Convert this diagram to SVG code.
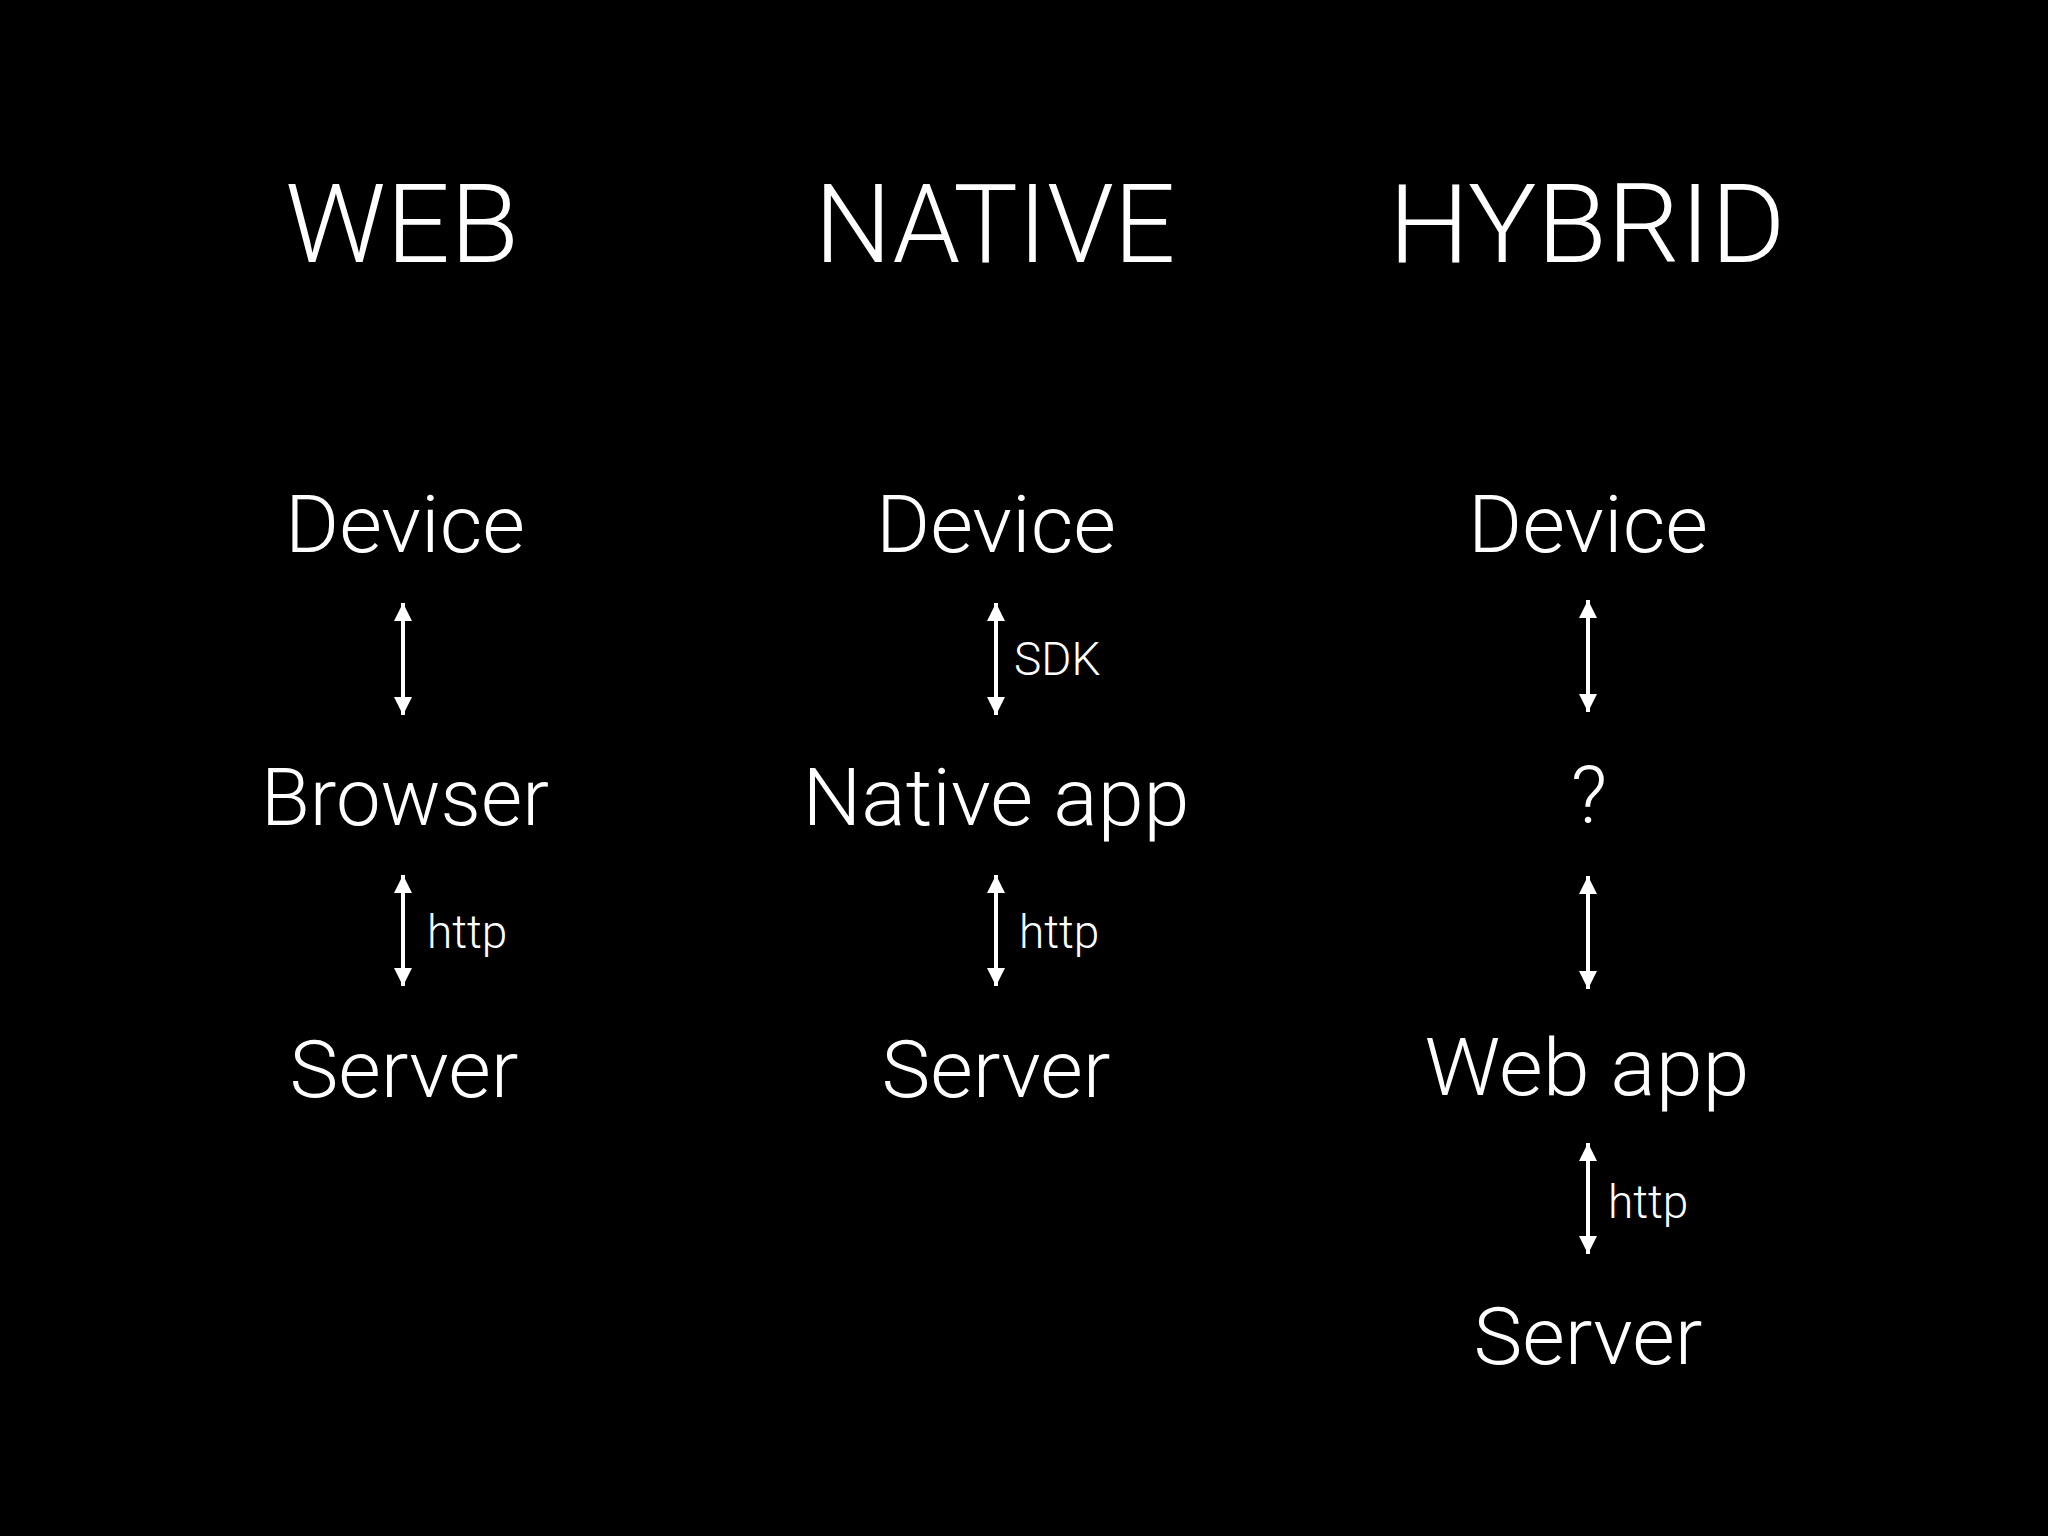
<svg xmlns="http://www.w3.org/2000/svg" width="2048" height="1536" viewBox="0 0 2048 1536">
<defs>
<marker id="ah" viewBox="0 0 10 10" refX="10" refY="5" markerWidth="18" markerHeight="18" markerUnits="userSpaceOnUse" orient="auto-start-reverse">
<path d="M0,0 L10,5 L0,10 z" fill="#fff"/>
</marker>
<style>
.t{font-family:Roboto,"Helvetica Neue","Liberation Sans",sans-serif;font-weight:300;fill:#fff;text-anchor:middle}
.h{font-size:110px}
.n{font-size:80px}
.s{font-family:Roboto,"Helvetica Neue","Liberation Sans",sans-serif;font-weight:300;fill:#fff;font-size:46px}
.c{stroke:#fff;stroke-width:4;fill:none;marker-start:url(#ah);marker-end:url(#ah)}
</style>
</defs>
<rect width="2048" height="1536" fill="#000"/>
<g id="titles">
<text class="t h" x="402" y="262" textLength="234" lengthAdjust="spacingAndGlyphs">WEB</text>
<text class="t h" x="995" y="262" textLength="361" lengthAdjust="spacingAndGlyphs">NATIVE</text>
<text class="t h" x="1587" y="262" textLength="397" lengthAdjust="spacingAndGlyphs">HYBRID</text>
</g>
<g id="web-device"><text class="t n" x="405" y="552" textLength="240" lengthAdjust="spacingAndGlyphs">Device</text></g>
<g id="web-browser"><text class="t n" x="405" y="825" textLength="288" lengthAdjust="spacingAndGlyphs">Browser</text></g>
<g id="web-server"><text class="t n" x="404" y="1097" textLength="229" lengthAdjust="spacingAndGlyphs">Server</text></g>
<g id="native-device"><text class="t n" x="996" y="552" textLength="240" lengthAdjust="spacingAndGlyphs">Device</text></g>
<g id="native-app"><text class="t n" x="996" y="825" textLength="387" lengthAdjust="spacingAndGlyphs">Native app</text></g>
<g id="native-server"><text class="t n" x="996" y="1097" textLength="229" lengthAdjust="spacingAndGlyphs">Server</text></g>
<g id="hybrid-device"><text class="t n" x="1588" y="552" textLength="240" lengthAdjust="spacingAndGlyphs">Device</text></g>
<g id="hybrid-unknown"><text class="t n" x="1589" y="823">?</text></g>
<g id="hybrid-webapp"><text class="t n" x="1587" y="1095" textLength="325" lengthAdjust="spacingAndGlyphs">Web app</text></g>
<g id="hybrid-server"><text class="t n" x="1588" y="1364" textLength="229" lengthAdjust="spacingAndGlyphs">Server</text></g>
<g id="connectors">
<line class="c" x1="403" y1="603" x2="403" y2="715"/>
<line class="c" x1="403" y1="875" x2="403" y2="986"/>
<text class="s" x="427" y="948">http</text>
<line class="c" x1="996" y1="603" x2="996" y2="715"/>
<text class="s" x="1014" y="675">SDK</text>
<line class="c" x1="996" y1="875" x2="996" y2="986"/>
<text class="s" x="1019" y="948">http</text>
<line class="c" x1="1588" y1="600" x2="1588" y2="712"/>
<line class="c" x1="1588" y1="876" x2="1588" y2="989"/>
<line class="c" x1="1588" y1="1143" x2="1588" y2="1254"/>
<text class="s" x="1608" y="1218">http</text>
</g>
</svg>
